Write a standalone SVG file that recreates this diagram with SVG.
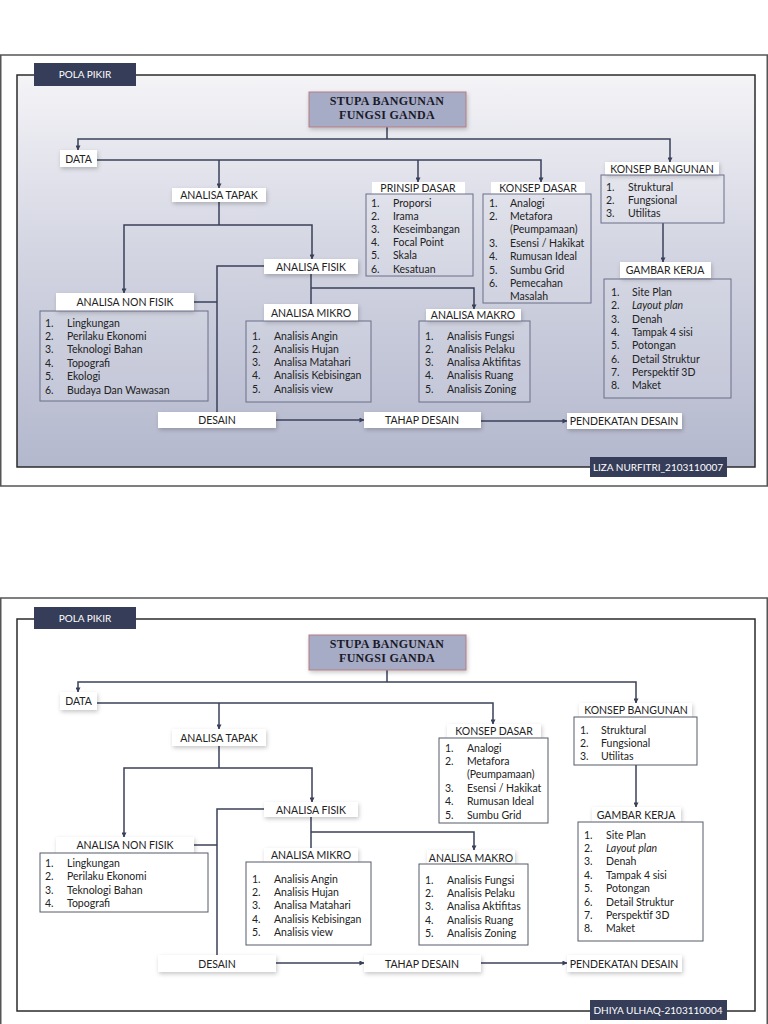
<svg xmlns="http://www.w3.org/2000/svg" width="768" height="1024" viewBox="0 0 768 1024">
<style>
.page{fill:#ffffff;stroke:#555;stroke-width:1.5}
.frame{stroke:#2b2b2b;stroke-width:1.5}
.tab{fill:#363d58}
.tabt{font-family:Lato,"Open Sans",sans-serif;font-size:10px;fill:#ffffff;text-anchor:middle}
.title{fill:#a6abc6;stroke:#b47d84;stroke-width:1}
.tt{font-family:"Liberation Serif",serif;font-weight:bold;font-size:12px;fill:#1a1a26;text-anchor:middle;letter-spacing:0.3px}
.lab{fill:#ffffff}
.lt{font-family:Lato,"Open Sans",sans-serif;font-size:10.5px;fill:#222;text-anchor:middle}
.listA{fill:#ffffff;fill-opacity:0.1;stroke:#6a6f88;stroke-width:1}
.listB{fill:#ffffff;stroke:#555a66;stroke-width:1}
.li{font-family:Lato,"Open Sans",sans-serif;font-size:10.5px;fill:#222}
.conn path{fill:none;stroke:#3a405a;stroke-width:1.5}
.arr{marker-end:url(#ah)}
</style>
<defs>
<linearGradient id="bg" x1="0" y1="0" x2="0" y2="1">
<stop offset="0" stop-color="#f4f4f7"/>
<stop offset="0.45" stop-color="#d3d5e2"/>
<stop offset="1" stop-color="#b4b8cd"/>
</linearGradient>
<marker id="ah" viewBox="0 0 6 6" refX="5.5" refY="3" markerWidth="5" markerHeight="5" markerUnits="userSpaceOnUse" orient="auto">
<path d="M0,0 L6,3 L0,6 z" fill="#3a405a"/>
</marker>
<filter id="sh" x="-20%" y="-40%" width="140%" height="190%">
<feDropShadow dx="1" dy="2" stdDeviation="2" flood-color="#000" flood-opacity="0.22"/>
</filter>
</defs>

<!-- ================= TOP PANEL ================= -->
<g id="panel1">
<rect class="page" x="0.75" y="55" width="766.5" height="431"/>
<rect class="frame" x="17" y="75" width="738" height="392" fill="url(#bg)"/>
<g id="p1-tab"><rect class="tab" x="34" y="63" width="102" height="23"/><text class="tabt" x="85" y="78">POLA PIKIR</text></g>

<g class="conn" id="p1-connectors">
<path d="M387,127 V139"/>
<path class="arr" d="M387,139 H78 V150"/>
<path class="arr" d="M387,139 H670 V162"/>
<path class="arr" d="M97,160 H541 V182"/>
<path class="arr" d="M219,160 V188"/>
<path class="arr" d="M418,160 V182"/>
<path d="M219,202 V225"/>
<path class="arr" d="M219,225 H124 V293"/>
<path class="arr" d="M219,225 H312 V259"/>
<path d="M264,266 H217 V412"/>
<path d="M194,302 H217"/>
<path d="M311,274 V304"/>
<path class="arr" d="M311,288 H474 V309"/>
<path class="arr" d="M663,223 V262"/>
<path class="arr" d="M276,420 H364"/>
<path class="arr" d="M481,421 H567"/>
</g>

<g id="p1-title"><rect class="title" x="309" y="92" width="157" height="35" filter="url(#sh)"/><text class="tt" x="387" y="104.5">STUPA BANGUNAN</text><text class="tt" x="387" y="118.5">FUNGSI GANDA</text></g>

<g id="p1-data"><rect class="lab" x="60" y="150" width="37" height="17" filter="url(#sh)"/><text class="lt" x="78.5" y="162.5">DATA</text></g>

<g id="p1-tapak"><rect class="lab" x="172" y="188" width="94" height="14" filter="url(#sh)"/><text class="lt" x="219" y="199">ANALISA TAPAK</text></g>

<g id="p1-prinsip">
<rect class="lab" x="372" y="182" width="93" height="12"/><text class="lt" x="418" y="192">PRINSIP DASAR</text>
<rect class="listA" x="366" y="194" width="107" height="82"/>
<text class="li" y="206.5"><tspan x="371">1.</tspan><tspan x="393">Proporsi</tspan></text>
<text class="li" y="219.7"><tspan x="371">2.</tspan><tspan x="393">Irama</tspan></text>
<text class="li" y="232.9"><tspan x="371">3.</tspan><tspan x="393">Keseimbangan</tspan></text>
<text class="li" y="246.1"><tspan x="371">4.</tspan><tspan x="393">Focal Point</tspan></text>
<text class="li" y="259.3"><tspan x="371">5.</tspan><tspan x="393">Skala</tspan></text>
<text class="li" y="272.5"><tspan x="371">6.</tspan><tspan x="393">Kesatuan</tspan></text>
</g>

<g id="p1-konsepdasar">
<rect class="lab" x="491" y="182" width="94" height="12"/><text class="lt" x="538" y="192">KONSEP DASAR</text>
<rect class="listA" x="483" y="194" width="108" height="109"/>
<text class="li" y="206.5"><tspan x="489">1.</tspan><tspan x="510">Analogi</tspan></text>
<text class="li" y="219.9"><tspan x="489">2.</tspan><tspan x="510">Metafora</tspan></text>
<text class="li" y="233.3"><tspan x="510">(Peumpamaan)</tspan></text>
<text class="li" y="246.7"><tspan x="489">3.</tspan><tspan x="510">Esensi / Hakikat</tspan></text>
<text class="li" y="260.1"><tspan x="489">4.</tspan><tspan x="510">Rumusan Ideal</tspan></text>
<text class="li" y="273.5"><tspan x="489">5.</tspan><tspan x="510">Sumbu Grid</tspan></text>
<text class="li" y="286.9"><tspan x="489">6.</tspan><tspan x="510">Pemecahan</tspan></text>
<text class="li" y="300.3"><tspan x="510">Masalah</tspan></text>
</g>

<g id="p1-konsepbangunan">
<rect class="lab" x="605" y="162" width="114" height="13" filter="url(#sh)"/><text class="lt" x="662" y="172.5">KONSEP BANGUNAN</text>
<rect class="listA" x="601" y="175" width="123" height="48"/>
<text class="li" y="190.5"><tspan x="606">1.</tspan><tspan x="628">Struktural</tspan></text>
<text class="li" y="203.5"><tspan x="606">2.</tspan><tspan x="628">Fungsional</tspan></text>
<text class="li" y="216.5"><tspan x="606">3.</tspan><tspan x="628">Utilitas</tspan></text>
</g>

<g id="p1-fisik"><rect class="lab" x="264" y="259" width="94" height="15" filter="url(#sh)"/><text class="lt" x="311" y="270.5">ANALISA FISIK</text></g>

<g id="p1-nonfisik">
<rect class="lab" x="56" y="293" width="138" height="18" filter="url(#sh)"/><text class="lt" x="125" y="306">ANALISA NON FISIK</text>
<rect class="listA" x="40" y="311" width="168" height="90"/>
<text class="li" y="326.5"><tspan x="45">1.</tspan><tspan x="67">Lingkungan</tspan></text>
<text class="li" y="339.9"><tspan x="45">2.</tspan><tspan x="67">Perilaku Ekonomi</tspan></text>
<text class="li" y="353.3"><tspan x="45">3.</tspan><tspan x="67">Teknologi Bahan</tspan></text>
<text class="li" y="366.7"><tspan x="45">4.</tspan><tspan x="67">Topografi</tspan></text>
<text class="li" y="380.1"><tspan x="45">5.</tspan><tspan x="67">Ekologi</tspan></text>
<text class="li" y="393.5"><tspan x="45">6.</tspan><tspan x="67">Budaya Dan Wawasan</tspan></text>
</g>

<g id="p1-mikro">
<rect class="lab" x="264" y="304" width="94" height="17" filter="url(#sh)"/><text class="lt" x="311" y="316.5">ANALISA MIKRO</text>
<rect class="listA" x="246" y="321" width="125" height="81"/>
<text class="li" y="339.5"><tspan x="252">1.</tspan><tspan x="274">Analisis Angin</tspan></text>
<text class="li" y="352.8"><tspan x="252">2.</tspan><tspan x="274">Analisis Hujan</tspan></text>
<text class="li" y="366.1"><tspan x="252">3.</tspan><tspan x="274">Analisa Matahari</tspan></text>
<text class="li" y="379.4"><tspan x="252">4.</tspan><tspan x="274">Analisis Kebisingan</tspan></text>
<text class="li" y="392.7"><tspan x="252">5.</tspan><tspan x="274">Analisis view</tspan></text>
</g>

<g id="p1-makro">
<rect class="lab" x="426" y="309" width="95" height="12" filter="url(#sh)"/><text class="lt" x="473" y="319">ANALISA MAKRO</text>
<rect class="listA" x="419" y="321" width="111" height="81"/>
<text class="li" y="339.5"><tspan x="425">1.</tspan><tspan x="447">Analisis Fungsi</tspan></text>
<text class="li" y="352.8"><tspan x="425">2.</tspan><tspan x="447">Analisis Pelaku</tspan></text>
<text class="li" y="366.1"><tspan x="425">3.</tspan><tspan x="447">Analisa Aktifitas</tspan></text>
<text class="li" y="379.4"><tspan x="425">4.</tspan><tspan x="447">Analisis Ruang</tspan></text>
<text class="li" y="392.7"><tspan x="425">5.</tspan><tspan x="447">Analisis Zoning</tspan></text>
</g>

<g id="p1-gambar">
<rect class="lab" x="620" y="262" width="91" height="16" filter="url(#sh)"/><text class="lt" x="665" y="274">GAMBAR KERJA</text>
<rect class="listA" x="604" y="279" width="127" height="119"/>
<text class="li" y="296"><tspan x="611">1.</tspan><tspan x="632">Site Plan</tspan></text>
<text class="li" y="309.3"><tspan x="611">2.</tspan><tspan x="632" font-style="italic">Layout plan</tspan></text>
<text class="li" y="322.6"><tspan x="611">3.</tspan><tspan x="632">Denah</tspan></text>
<text class="li" y="335.9"><tspan x="611">4.</tspan><tspan x="632">Tampak 4 sisi</tspan></text>
<text class="li" y="349.2"><tspan x="611">5.</tspan><tspan x="632">Potongan</tspan></text>
<text class="li" y="362.5"><tspan x="611">6.</tspan><tspan x="632">Detail Struktur</tspan></text>
<text class="li" y="375.8"><tspan x="611">7.</tspan><tspan x="632">Perspektif 3D</tspan></text>
<text class="li" y="389.1"><tspan x="611">8.</tspan><tspan x="632">Maket</tspan></text>
</g>

<g id="p1-desain"><rect class="lab" x="158" y="412" width="118" height="16" filter="url(#sh)"/><text class="lt" x="217" y="424">DESAIN</text></g>
<g id="p1-tahap"><rect class="lab" x="364" y="412" width="117" height="16" filter="url(#sh)"/><text class="lt" x="422" y="424">TAHAP DESAIN</text></g>
<g id="p1-pendekatan"><rect class="lab" x="567" y="413" width="115" height="16" filter="url(#sh)"/><text class="lt" x="624" y="425">PENDEKATAN DESAIN</text></g>
<g id="p1-author"><rect class="tab" x="590" y="457" width="137" height="20"/><text class="tabt" x="658" y="471">LIZA NURFITRI_2103110007</text></g>
</g>

<!-- ================= BOTTOM PANEL ================= -->
<g id="panel2">
<path d="M0.75,1024 V598 H767.25 V1024" fill="#ffffff" stroke="#555" stroke-width="1.5"/>
<rect class="frame" x="17" y="619" width="738" height="392" fill="#ffffff"/>
<g id="p2-tab"><rect class="tab" x="34" y="607" width="102" height="22"/><text class="tabt" x="85" y="622">POLA PIKIR</text></g>

<g class="conn" id="p2-connectors">
<path d="M387,670 V682"/>
<path class="arr" d="M387,682 H78 V692"/>
<path class="arr" d="M387,682 H636 V703"/>
<path class="arr" d="M97,703 H493 V724"/>
<path class="arr" d="M219,703 V729"/>
<path d="M219,746 V768"/>
<path class="arr" d="M219,768 H124 V837"/>
<path class="arr" d="M219,768 H312 V802"/>
<path d="M264,809 H217 V955"/>
<path d="M194,845 H217"/>
<path d="M311,817 V848"/>
<path class="arr" d="M311,832 H474 V850"/>
<path class="arr" d="M636,765 V807"/>
<path class="arr" d="M276,963 H364"/>
<path class="arr" d="M481,963 H567"/>
</g>

<g id="p2-title"><rect class="title" x="309" y="635" width="157" height="35" filter="url(#sh)"/><text class="tt" x="387" y="648">STUPA BANGUNAN</text><text class="tt" x="387" y="662">FUNGSI GANDA</text></g>

<g id="p2-data"><rect class="lab" x="60" y="692" width="37" height="18" filter="url(#sh)"/><text class="lt" x="78.5" y="705">DATA</text></g>

<g id="p2-tapak"><rect class="lab" x="172" y="729" width="94" height="17" filter="url(#sh)"/><text class="lt" x="219" y="741.5">ANALISA TAPAK</text></g>

<g id="p2-konsepdasar">
<rect class="lab" x="447" y="724" width="94" height="14" filter="url(#sh)"/><text class="lt" x="494" y="735">KONSEP DASAR</text>
<rect class="listB" x="439" y="738" width="109" height="85"/>
<text class="li" y="751.5"><tspan x="445">1.</tspan><tspan x="467">Analogi</tspan></text>
<text class="li" y="764.9"><tspan x="445">2.</tspan><tspan x="467">Metafora</tspan></text>
<text class="li" y="778.3"><tspan x="467">(Peumpamaan)</tspan></text>
<text class="li" y="791.7"><tspan x="445">3.</tspan><tspan x="467">Esensi / Hakikat</tspan></text>
<text class="li" y="805.1"><tspan x="445">4.</tspan><tspan x="467">Rumusan Ideal</tspan></text>
<text class="li" y="818.5"><tspan x="445">5.</tspan><tspan x="467">Sumbu Grid</tspan></text>
</g>

<g id="p2-konsepbangunan">
<rect class="lab" x="579" y="703" width="113" height="14" filter="url(#sh)"/><text class="lt" x="636" y="714">KONSEP BANGUNAN</text>
<rect class="listB" x="574" y="717" width="123" height="48"/>
<text class="li" y="733.5"><tspan x="580">1.</tspan><tspan x="601">Struktural</tspan></text>
<text class="li" y="746.9"><tspan x="580">2.</tspan><tspan x="601">Fungsional</tspan></text>
<text class="li" y="760.3"><tspan x="580">3.</tspan><tspan x="601">Utilitas</tspan></text>
</g>

<g id="p2-fisik"><rect class="lab" x="264" y="802" width="94" height="15" filter="url(#sh)"/><text class="lt" x="311" y="813.5">ANALISA FISIK</text></g>

<g id="p2-nonfisik">
<rect class="lab" x="56" y="837" width="138" height="16" filter="url(#sh)"/><text class="lt" x="125" y="849">ANALISA NON FISIK</text>
<rect class="listB" x="40" y="853" width="168" height="59"/>
<text class="li" y="866.5"><tspan x="45">1.</tspan><tspan x="67">Lingkungan</tspan></text>
<text class="li" y="880.1"><tspan x="45">2.</tspan><tspan x="67">Perilaku Ekonomi</tspan></text>
<text class="li" y="893.7"><tspan x="45">3.</tspan><tspan x="67">Teknologi Bahan</tspan></text>
<text class="li" y="907.3"><tspan x="45">4.</tspan><tspan x="67">Topografi</tspan></text>
</g>

<g id="p2-mikro">
<rect class="lab" x="264" y="848" width="94" height="14" filter="url(#sh)"/><text class="lt" x="311" y="859">ANALISA MIKRO</text>
<rect class="listB" x="246" y="862" width="125" height="83"/>
<text class="li" y="882.5"><tspan x="252">1.</tspan><tspan x="274">Analisis Angin</tspan></text>
<text class="li" y="895.9"><tspan x="252">2.</tspan><tspan x="274">Analisis Hujan</tspan></text>
<text class="li" y="909.3"><tspan x="252">3.</tspan><tspan x="274">Analisa Matahari</tspan></text>
<text class="li" y="922.7"><tspan x="252">4.</tspan><tspan x="274">Analisis Kebisingan</tspan></text>
<text class="li" y="936.1"><tspan x="252">5.</tspan><tspan x="274">Analisis view</tspan></text>
</g>

<g id="p2-makro">
<rect class="lab" x="427" y="850" width="88" height="14" filter="url(#sh)"/><text class="lt" x="471" y="861.5">ANALISA MAKRO</text>
<rect class="listB" x="419" y="864" width="109" height="81"/>
<text class="li" y="883.5"><tspan x="425">1.</tspan><tspan x="447">Analisis Fungsi</tspan></text>
<text class="li" y="896.9"><tspan x="425">2.</tspan><tspan x="447">Analisis Pelaku</tspan></text>
<text class="li" y="910.3"><tspan x="425">3.</tspan><tspan x="447">Analisa Aktifitas</tspan></text>
<text class="li" y="923.7"><tspan x="425">4.</tspan><tspan x="447">Analisis Ruang</tspan></text>
<text class="li" y="937.1"><tspan x="425">5.</tspan><tspan x="447">Analisis Zoning</tspan></text>
</g>

<g id="p2-gambar">
<rect class="lab" x="592" y="807" width="89" height="15" filter="url(#sh)"/><text class="lt" x="636" y="818.5">GAMBAR KERJA</text>
<rect class="listB" x="578" y="822" width="125" height="119"/>
<text class="li" y="838.5"><tspan x="584">1.</tspan><tspan x="606">Site Plan</tspan></text>
<text class="li" y="851.9"><tspan x="584">2.</tspan><tspan x="606" font-style="italic">Layout plan</tspan></text>
<text class="li" y="865.3"><tspan x="584">3.</tspan><tspan x="606">Denah</tspan></text>
<text class="li" y="878.7"><tspan x="584">4.</tspan><tspan x="606">Tampak 4 sisi</tspan></text>
<text class="li" y="892.1"><tspan x="584">5.</tspan><tspan x="606">Potongan</tspan></text>
<text class="li" y="905.5"><tspan x="584">6.</tspan><tspan x="606">Detail Struktur</tspan></text>
<text class="li" y="918.9"><tspan x="584">7.</tspan><tspan x="606">Perspektif 3D</tspan></text>
<text class="li" y="932.3"><tspan x="584">8.</tspan><tspan x="606">Maket</tspan></text>
</g>

<g id="p2-desain"><rect class="lab" x="158" y="955" width="118" height="17" filter="url(#sh)"/><text class="lt" x="217" y="967.5">DESAIN</text></g>
<g id="p2-tahap"><rect class="lab" x="364" y="955" width="117" height="17" filter="url(#sh)"/><text class="lt" x="422" y="967.5">TAHAP DESAIN</text></g>
<g id="p2-pendekatan"><rect class="lab" x="567" y="955" width="115" height="17" filter="url(#sh)"/><text class="lt" x="624" y="967.5">PENDEKATAN DESAIN</text></g>
<g id="p2-author"><rect class="tab" x="590" y="1000" width="137" height="20"/><text class="tabt" x="658" y="1014">DHIYA ULHAQ-2103110004</text></g>
</g>
</svg>
